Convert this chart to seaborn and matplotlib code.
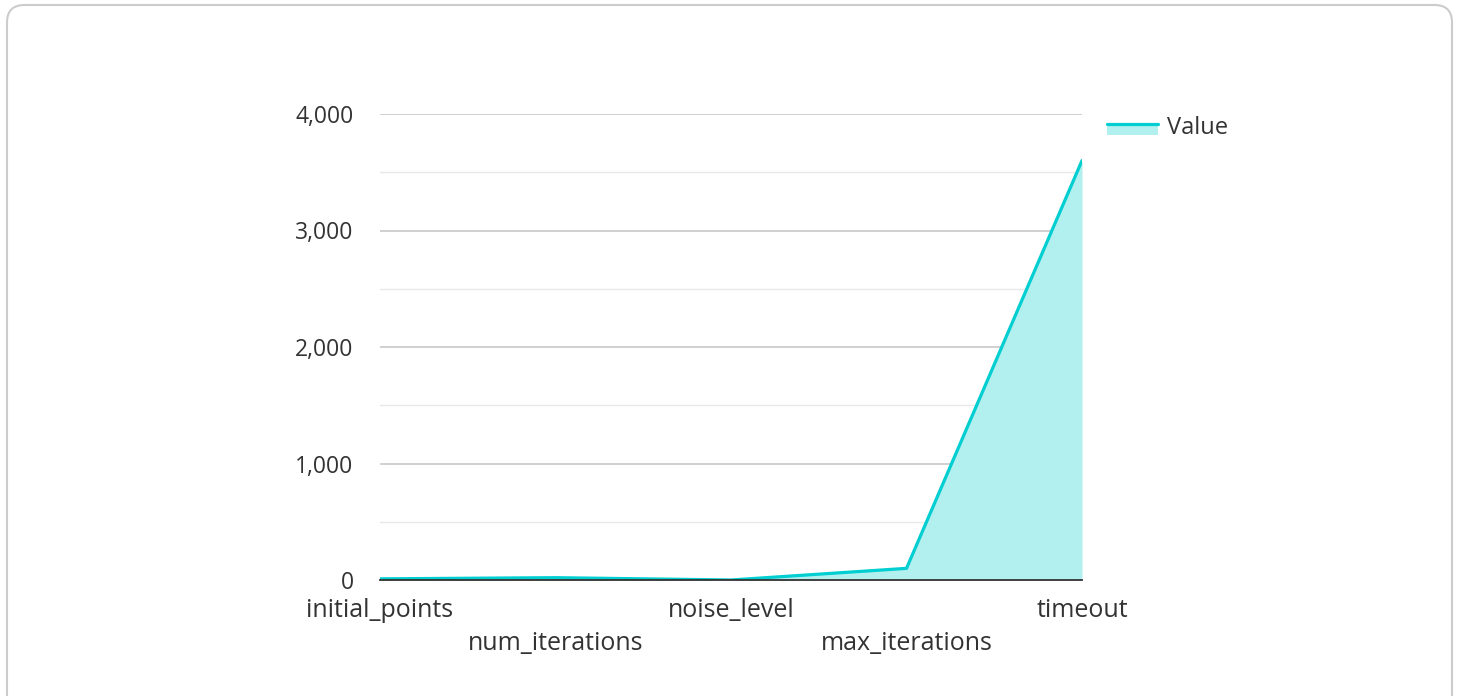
import matplotlib
matplotlib.use("Agg")
import matplotlib.pyplot as plt
import seaborn as sns
import pandas as pd
from matplotlib.patches import FancyBboxPatch, Rectangle
from matplotlib.lines import Line2D
from matplotlib.legend_handler import HandlerBase
from matplotlib.ticker import MultipleLocator, FuncFormatter

# Parameter values
categories = ["initial_points", "num_iterations", "noise_level", "max_iterations", "timeout"]
values = [10, 20, 0.1, 100, 3600]

LINE = "#00CED1"
FILL = "#B2EFEF"
TEXT = "#333333"

sns.set_theme(style="white")
plt.rcParams["font.family"] = ["Open Sans", "DejaVu Sans"]

df = pd.DataFrame({"param": categories, "value": values, "pos": range(len(categories))})

fig = plt.figure(figsize=(14.58, 6.96), dpi=100)
fig.patch.set_facecolor("white")

# Rounded card border around the figure
card = FancyBboxPatch((7 / 1458, -0.05), 1445 / 1458, 0.05 + 1 - 5 / 696,
                      boxstyle="round,pad=0,rounding_size=0.012",
                      transform=fig.transFigure, facecolor="none",
                      edgecolor="#CCCCCC", linewidth=1.5, mutation_aspect=1458 / 696,
                      zorder=-5)
fig.patches.append(card)

ax = fig.add_axes([380 / 1458, 1 - 580 / 696, (1082 - 380) / 1458, (580 - 114) / 696])
ax.set_facecolor("none")

ax.fill_between(df["pos"], df["value"], 0, color=FILL, linewidth=0, zorder=2)
sns.lineplot(data=df, x="pos", y="value", ax=ax, color=LINE, linewidth=2.3,
             zorder=3, legend=False)

ax.set_xlim(0, len(categories) - 1)
ax.set_ylim(0, 4000)
ax.yaxis.set_major_locator(MultipleLocator(1000))
ax.yaxis.set_minor_locator(MultipleLocator(500))
ax.yaxis.set_major_formatter(FuncFormatter(lambda v, p: f"{int(v):,}"))
ax.grid(axis="y", which="major", color="#C4C4C4", linewidth=1.1, zorder=0)
ax.grid(axis="y", which="minor", color="#E8E8E8", linewidth=1.0, zorder=0)
ax.grid(axis="x", visible=False)
ax.set_axisbelow(True)

for s in ["left", "right", "top"]:
    ax.spines[s].set_visible(False)
ax.spines["bottom"].set_color("#333333")
ax.spines["bottom"].set_linewidth(1.3)
ax.spines["bottom"].set_zorder(4)

ax.set_xticks(list(df["pos"]))
ax.set_xticklabels([c if i % 2 == 0 else "\n" + c for i, c in enumerate(categories)],
                   linespacing=1.40)
ax.tick_params(axis="x", length=0, pad=13, labelsize=18, labelcolor=TEXT)
ax.tick_params(axis="y", which="both", length=0, pad=19, labelsize=16.5, labelcolor=TEXT)
ax.set_xlabel("")
ax.set_ylabel("")


class AreaLineHandler(HandlerBase):
    def create_artists(self, legend, orig_handle, xdescent, ydescent, width, height,
                       fontsize, trans):
        top = -ydescent + height * 0.6
        rect = Rectangle((-xdescent, top - height * 0.55), width, height * 0.55,
                         facecolor=FILL, edgecolor="none", transform=trans)
        line = Line2D([-xdescent, -xdescent + width], [top, top],
                      color=LINE, linewidth=2.3, transform=trans)
        return [rect, line]


handle = object()
leg = ax.legend([handle], ["Value"], handler_map={object: AreaLineHandler()},
                loc="upper left", bbox_to_anchor=(1.0356, 0.996), frameon=False,
                borderpad=0, borderaxespad=0,
                fontsize=17, handlelength=2.14, handleheight=0.95, handletextpad=0.42)
for t in leg.get_texts():
    t.set_color(TEXT)

fig.savefig("out.png", dpi=100, facecolor="white")
